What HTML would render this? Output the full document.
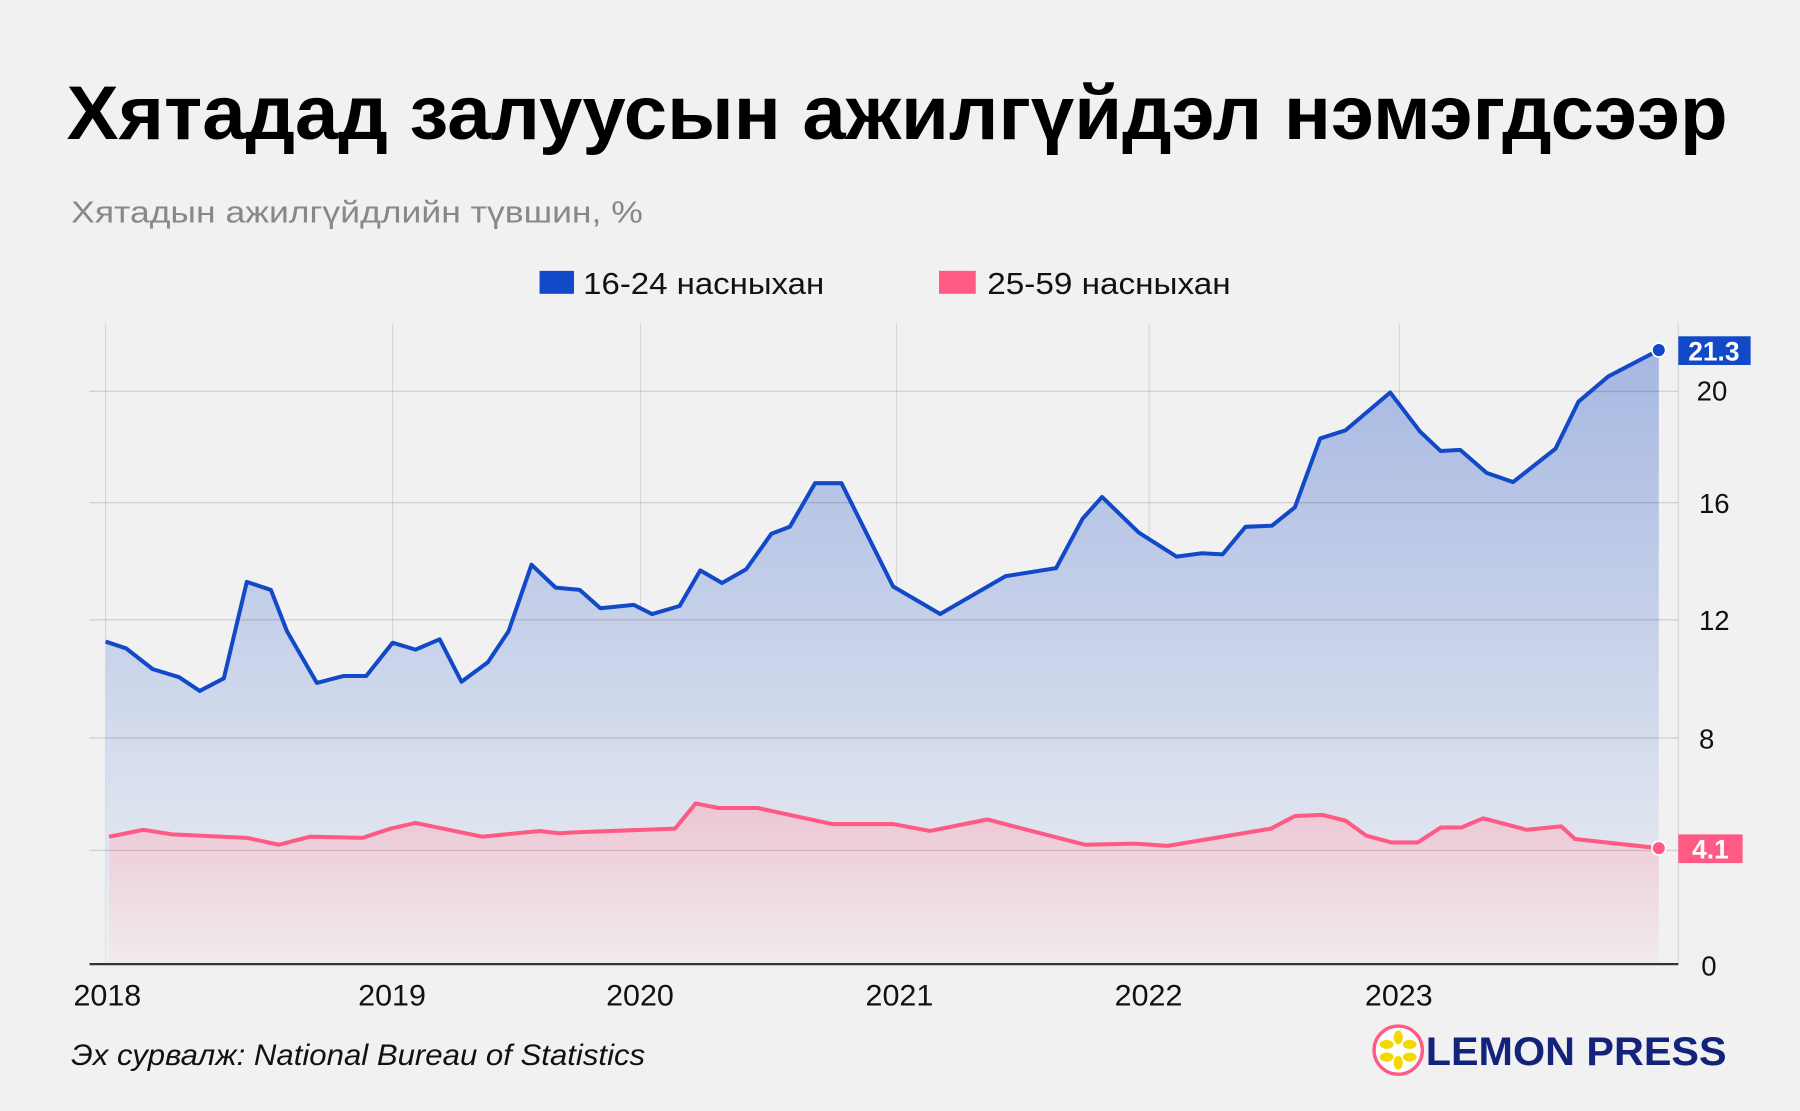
<!DOCTYPE html>
<html><head><meta charset="utf-8"><style>
html,body{margin:0;padding:0;background:#f1f1f1;}
svg{display:block;}
text{font-family:"Liberation Sans",sans-serif;}
</style></head><body>
<svg width="1800" height="1111" viewBox="0 0 1568 968" preserveAspectRatio="none" xmlns="http://www.w3.org/2000/svg">
<defs>
<linearGradient id="gb" x1="0" y1="0" x2="0" y2="1">
<stop offset="0" stop-color="#a6b7e1"/><stop offset="1" stop-color="#eef0f3"/></linearGradient>
<linearGradient id="gp" x1="0" y1="0" x2="0" y2="1">
<stop offset="0" stop-color="#ecc6d4"/><stop offset="1" stop-color="#f1ebed"/></linearGradient>
</defs>
<rect width="1568" height="968" fill="#f1f1f1"/>
<text x="58" y="121" font-size="66" font-weight="bold" fill="#000" textLength="1447" lengthAdjust="spacingAndGlyphs">Хятадад залуусын ажилгүйдэл нэмэгдсээр</text>
<text x="62" y="194" font-size="27" fill="#888" textLength="498" lengthAdjust="spacingAndGlyphs">Хятадын ажилгүйдлийн түвшин, %</text>
<rect x="470" y="236" width="30" height="20" fill="#1249c8"/>
<text x="508" y="256" font-size="27" fill="#111" textLength="210" lengthAdjust="spacingAndGlyphs">16-24 насныхан</text>
<rect x="818" y="236" width="32" height="20" fill="#ff5a84"/>
<text x="860" y="256" font-size="27" fill="#111" textLength="212" lengthAdjust="spacingAndGlyphs">25-59 насныхан</text>
<g stroke="#d6d6d6" stroke-width="1">
<line x1="92" y1="282" x2="92" y2="840"/><line x1="342" y1="282" x2="342" y2="840"/>
<line x1="558" y1="282" x2="558" y2="840"/><line x1="781" y1="282" x2="781" y2="840"/>
<line x1="1001" y1="282" x2="1001" y2="840"/><line x1="1219" y1="282" x2="1219" y2="840"/>
<line x1="1462" y1="282" x2="1462" y2="840"/>
</g>
<path fill="url(#gb)" d="M92,559 L110,565 L133,583 L156,590 L174,602 L195,591 L215,507 L236,514 L250,550 L276,595 L299,589 L319,589 L342,560 L362,566 L383,557 L402,594 L425,577 L443,550 L463,492 L484,512 L505,514 L523,530 L552,527 L568,535 L592,528 L610,497 L629,508 L650,496 L672,465 L688,459 L710,421 L733,421 L778,511 L819,535 L876,502 L920,495 L943,452 L960,433 L992,464 L1025,485 L1047,482 L1065,483 L1085,459 L1108,458 L1128,442 L1150,382 L1172,375 L1211,342 L1237,376 L1255,393 L1272,392 L1295,412 L1318,420 L1355,391 L1375,350 L1401,328 L1445,305 L1445,840 L92,840 Z"/>
<path fill="url(#gp)" d="M95,729 L125,723 L150,727 L215,730 L243,736 L270,729 L316,730 L340,722 L362,717 L420,729 L470,724 L487,726 L505,725 L588,722 L606,700 L626,704 L660,704 L725,718 L778,718 L810,724 L860,714 L945,736 L988,735 L1017,737 L1107,722 L1128,711 L1152,710 L1172,715 L1190,728 L1212,734 L1235,734 L1255,721 L1273,721 L1292,713 L1330,723 L1360,720 L1372,731 L1445,739 L1445,840 L95,840 Z"/>
<g stroke="#000" stroke-opacity="0.13" stroke-width="1.2">
<line x1="78" y1="341" x2="1462" y2="341"/><line x1="78" y1="438" x2="1462" y2="438"/>
<line x1="78" y1="540" x2="1462" y2="540"/><line x1="78" y1="643" x2="1462" y2="643"/>
<line x1="78" y1="741" x2="1462" y2="741"/>
</g>
<polyline fill="none" stroke="#1249c8" stroke-width="3.5" stroke-linejoin="round" points="92,559 110,565 133,583 156,590 174,602 195,591 215,507 236,514 250,550 276,595 299,589 319,589 342,560 362,566 383,557 402,594 425,577 443,550 463,492 484,512 505,514 523,530 552,527 568,535 592,528 610,497 629,508 650,496 672,465 688,459 710,421 733,421 778,511 819,535 876,502 920,495 943,452 960,433 992,464 1025,485 1047,482 1065,483 1085,459 1108,458 1128,442 1150,382 1172,375 1211,342 1237,376 1255,393 1272,392 1295,412 1318,420 1355,391 1375,350 1401,328 1445,305"/>
<polyline fill="none" stroke="#ff5a84" stroke-width="3.5" stroke-linejoin="round" points="95,729 125,723 150,727 215,730 243,736 270,729 316,730 340,722 362,717 420,729 470,724 487,726 505,725 588,722 606,700 626,704 660,704 725,718 778,718 810,724 860,714 945,736 988,735 1017,737 1107,722 1128,711 1152,710 1172,715 1190,728 1212,734 1235,734 1255,721 1273,721 1292,713 1330,723 1360,720 1372,731 1445,739"/>
<circle cx="1445" cy="305" r="6" fill="#1249c8" stroke="#fff" stroke-width="1.5"/>
<circle cx="1445" cy="739" r="6" fill="#ff5a84" stroke="#fff" stroke-width="1.5"/>
<line x1="78" y1="840" x2="1462" y2="840" stroke="#333" stroke-width="2"/>
<g font-size="24" fill="#111">
<text x="1478" y="349">20</text><text x="1480" y="447">16</text><text x="1480" y="549">12</text>
<text x="1480" y="652">8</text><text x="1482" y="850">0</text>
</g>
<g font-size="26" fill="#111">
<text x="64" y="876" textLength="59" lengthAdjust="spacingAndGlyphs">2018</text><text x="312" y="876" textLength="59" lengthAdjust="spacingAndGlyphs">2019</text><text x="528" y="876" textLength="59" lengthAdjust="spacingAndGlyphs">2020</text>
<text x="754" y="876" textLength="59" lengthAdjust="spacingAndGlyphs">2021</text><text x="971" y="876" textLength="59" lengthAdjust="spacingAndGlyphs">2022</text><text x="1189" y="876" textLength="59" lengthAdjust="spacingAndGlyphs">2023</text>
</g>
<rect x="1462" y="293" width="63" height="25" fill="#1249c8"/>
<text x="1493" y="314" font-size="23" font-weight="bold" fill="#fff" text-anchor="middle">21.3</text>
<rect x="1462" y="727" width="56" height="25" fill="#ff5a84"/>
<text x="1490" y="748" font-size="23" font-weight="bold" fill="#fff" text-anchor="middle">4.1</text>
<text x="62" y="928" font-size="26" font-style="italic" fill="#111" textLength="500" lengthAdjust="spacingAndGlyphs">Эх сурвалж: National Bureau of Statistics</text>
<circle cx="1218" cy="915" r="21" fill="#fff" stroke="#ff5a84" stroke-width="3"/>
<g fill="#f5d800">
<ellipse cx="1218" cy="904" rx="4" ry="6"/><ellipse cx="1218" cy="926" rx="4" ry="6"/>
<ellipse cx="1208" cy="910" rx="6" ry="4"/><ellipse cx="1228" cy="910" rx="6" ry="4"/>
<ellipse cx="1208" cy="921" rx="6" ry="4"/><ellipse cx="1228" cy="921" rx="6" ry="4"/>
</g>
<text x="1242" y="928" font-size="35" font-weight="bold" fill="#13237a" textLength="262" lengthAdjust="spacingAndGlyphs">LEMON PRESS</text>
</svg>
</body></html>
